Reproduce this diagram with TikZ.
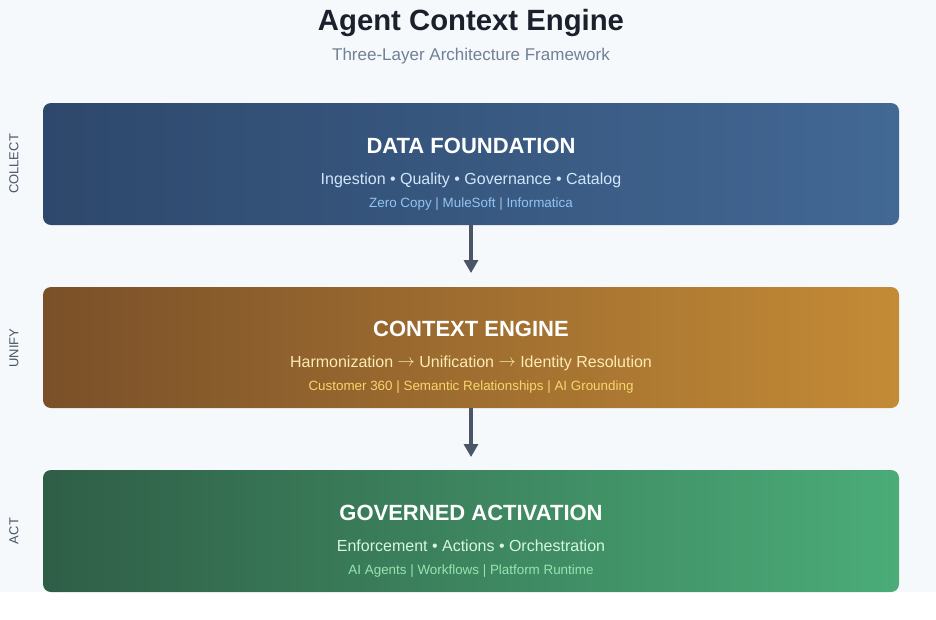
\documentclass[tikz,border=0pt]{standalone}
\usepackage{fontspec}
\setmainfont{Liberation Sans}
\newcommand{\rarr}{\raisebox{0.5pt}{$\rightarrow$}}
\usetikzlibrary{arrows.meta}
\definecolor{bgc}{HTML}{F6F9FC}
\definecolor{titlec}{HTML}{1A202C}
\definecolor{subc}{HTML}{718096}
\definecolor{sidec}{HTML}{4A5568}
\definecolor{arrc}{HTML}{4A5568}
\definecolor{aL}{HTML}{2E486C}
\definecolor{aR}{HTML}{426894}
\definecolor{bL}{HTML}{7A5029}
\definecolor{bR}{HTML}{C48B36}
\definecolor{cL}{HTML}{2F5E47}
\definecolor{cR}{HTML}{4BAC78}
\definecolor{aT}{HTML}{D2E6FB}
\definecolor{aS}{HTML}{90C6F4}
\definecolor{bT}{HTML}{FDEBB4}
\definecolor{bS}{HTML}{F8D66E}
\definecolor{cT}{HTML}{D6F7E0}
\definecolor{cS}{HTML}{98E4B0}
\tikzset{
  layerbox/.style={rounded corners=8pt},
  headtxt/.style={text=white, font=\fontsize{22}{24}\selectfont\bfseries, inner sep=0pt, anchor=base},
  linetxt/.style={font=\fontsize{16}{18}\selectfont, inner sep=0pt, anchor=base},
  smalltxt/.style={font=\fontsize{13.4}{15}\selectfont, inner sep=0pt, anchor=base},
  sidetxt/.style={text=sidec, font=\fontsize{13}{15}\selectfont, rotate=90, inner sep=0pt, anchor=center},
  flowarrow/.style={draw=arrc, line width=3.2pt, -{Triangle[length=13pt,width=14pt]}}
}
\begin{document}
\begin{tikzpicture}[x=1pt,y=-1pt]
\useasboundingbox (0,0) rectangle (936,619);
\fill[white] (0,0) rectangle (936,619);
\fill[bgc] (0,0) rectangle (936,592);
\node[text=titlec, font=\fontsize{29.3}{32}\selectfont\bfseries, inner sep=0pt, anchor=base] (title) at (471,30) {Agent Context Engine};
\node[text=subc, font=\fontsize{17}{20}\selectfont, inner sep=0pt, anchor=base] (subtitle) at (471,60) {Three-Layer Architecture Framework};
% layer 1
\shade[layerbox, left color=aL, right color=aR] (43,103) rectangle (899,225);
\coordinate (b1top) at (471,225);
\node[headtxt] (h1) at (471,153) {DATA FOUNDATION};
\node[linetxt, text=aT] (l1) at (471,184) {Ingestion • Quality • Governance • Catalog};
\node[smalltxt, text=aS] (s1) at (471,207) {Zero Copy | MuleSoft | Informatica};
\node[sidetxt] (side1) at (14,164) {COLLECT};
% layer 2
\shade[layerbox, left color=bL, right color=bR] (43,287) rectangle (899,408);
\coordinate (b2top) at (471,287);
\coordinate (b2bot) at (471,408);
\node[headtxt] (h2) at (471,336) {CONTEXT ENGINE};
\node[linetxt, text=bT] (l2) at (471,367) {Harmonization \rarr{} Unification \rarr{} Identity Resolution};
\node[smalltxt, text=bS] (s2) at (471,390) {Customer 360 | Semantic Relationships | AI Grounding};
\node[sidetxt] (side2) at (14,348) {UNIFY};
% layer 3
\shade[layerbox, left color=cL, right color=cR] (43,470) rectangle (899,592);
\coordinate (b3top) at (471,470);
\node[headtxt] (h3) at (471,520) {GOVERNED ACTIVATION};
\node[linetxt, text=cT] (l3) at (471,551) {Enforcement • Actions • Orchestration};
\node[smalltxt, text=cS] (s3) at (471,574) {AI Agents | Workflows | Platform Runtime};
\node[sidetxt] (side3) at (14,531) {ACT};
% arrows
\coordinate (t1) at (471,273);
\coordinate (t2) at (471,457);
\draw[flowarrow] (b1top) -- (t1);
\draw[flowarrow] (b2bot) -- (t2);
\end{tikzpicture}
\end{document}
